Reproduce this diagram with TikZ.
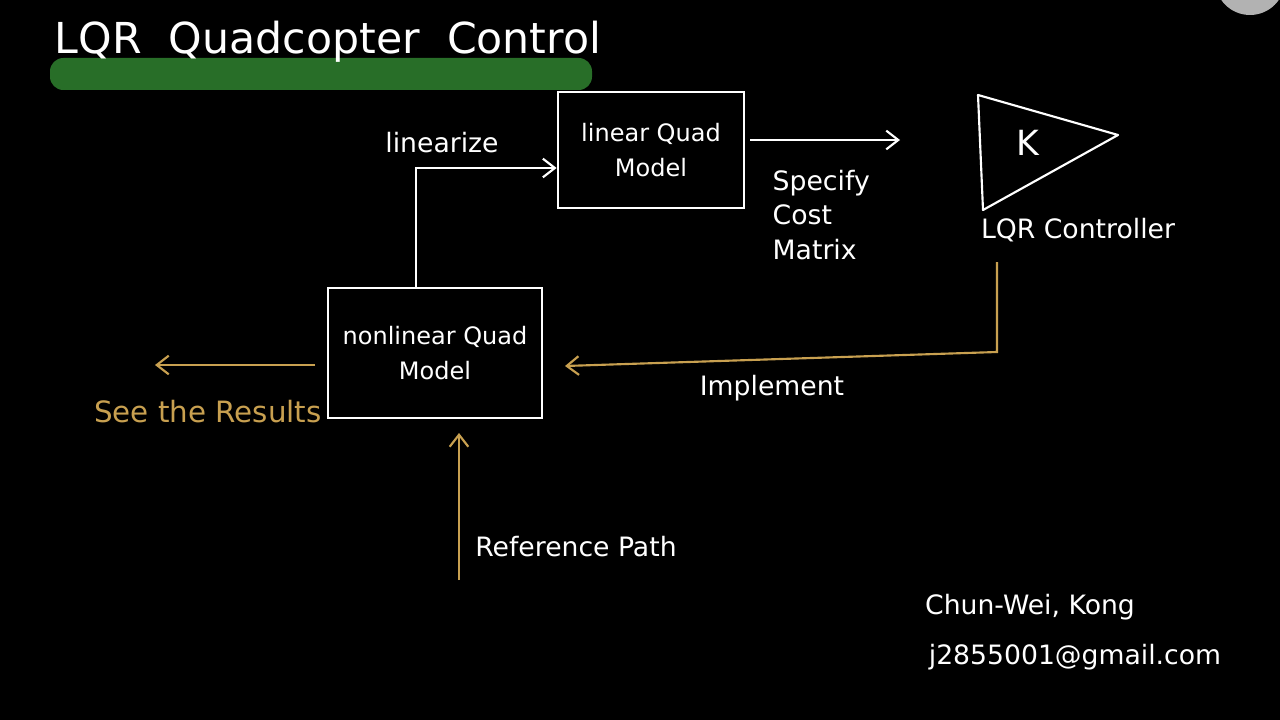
\documentclass[tikz,border=0pt]{standalone}
\usetikzlibrary{arrows.meta}
\usepackage{fontspec}
\setmainfont{DejaVu Sans}
\begin{document}
\begin{tikzpicture}[x=0.75pt,y=-0.75pt,
  wl/.style={draw=white,line width=1.6pt},
  gl/.style={draw=gold,line width=1.6pt},
  tip/.style={-{Straight Barb[length=9pt,width=14pt]}},
  wt/.style={text=white,font=\fontsize{20}{26}\selectfont,align=center},
  bt/.style={text=white,font=\fontsize{18}{26}\selectfont,align=center},
  gt/.style={text=gold,font=\fontsize{22}{26}\selectfont,align=center}]
\definecolor{gold}{RGB}{200,160,80}
\definecolor{hl}{RGB}{40,110,40}
\fill[black] (0,0) rectangle (1280,720);
\useasboundingbox (0,0) rectangle (1280,720);
\fill[gray!60] (1250,-20) circle (35);
\fill[hl,rounded corners=10pt] (50,58) rectangle (592,90);
\node[wt,font=\fontsize{32}{36}\selectfont] (title) at (328,42) {LQR\ \ Quadcopter\ \ Control};
\node[wl,minimum width=140,minimum height=87,bt] (lin) at (651,150) {linear Quad\\Model};
\node[wl,minimum width=161,minimum height=98,bt] (non) at (435,353) {nonlinear Quad\\Model};
\node[wt,align=left,anchor=west] (spec) at (768,215) {Specify\\Cost\\Matrix};
\coordinate (sa) at (750,140);
\coordinate (sb) at (900,140);
\draw[wl,tip] (sa) -- (sb);
\draw[wl,line join=round] (978,95) -- (1118,135) -- (983,210) -- cycle;
\node[wt,font=\fontsize{26}{30}\selectfont] (K) at (1028,143) {K};
\node[wt] (lqrc) at (1078,230) {LQR Controller};
\coordinate (c1) at (997,262);
\coordinate (c2) at (997,352);
\coordinate (c3) at (565,366);
\draw[gl,tip] (c1) -- (c2) -- (c3);
\node[wt] (imp) at (772,388) {Implement};
\coordinate (l1) at (416,168);
\draw[wl,tip] (non.north -| l1) -- (l1) -- (lin.west |- l1);
\node[wt] (linz) at (442,143) {linearize};
\coordinate (r0) at (315,365);
\coordinate (r1) at (155,365);
\draw[gl,tip] (r0) -- (r1);
\node[gt] (res) at (208,412) {See the Results};
\coordinate (p1) at (459,580);
\coordinate (p2) at (459,433);
\draw[gl,tip] (p1) -- (p2);
\node[wt] (ref) at (576,547) {Reference Path};
\node[wt] (name) at (1030,607) {Chun-Wei, Kong};
\node[wt] (mail) at (1075,657) {j2855001@gmail.com};
\end{tikzpicture}
\end{document}
